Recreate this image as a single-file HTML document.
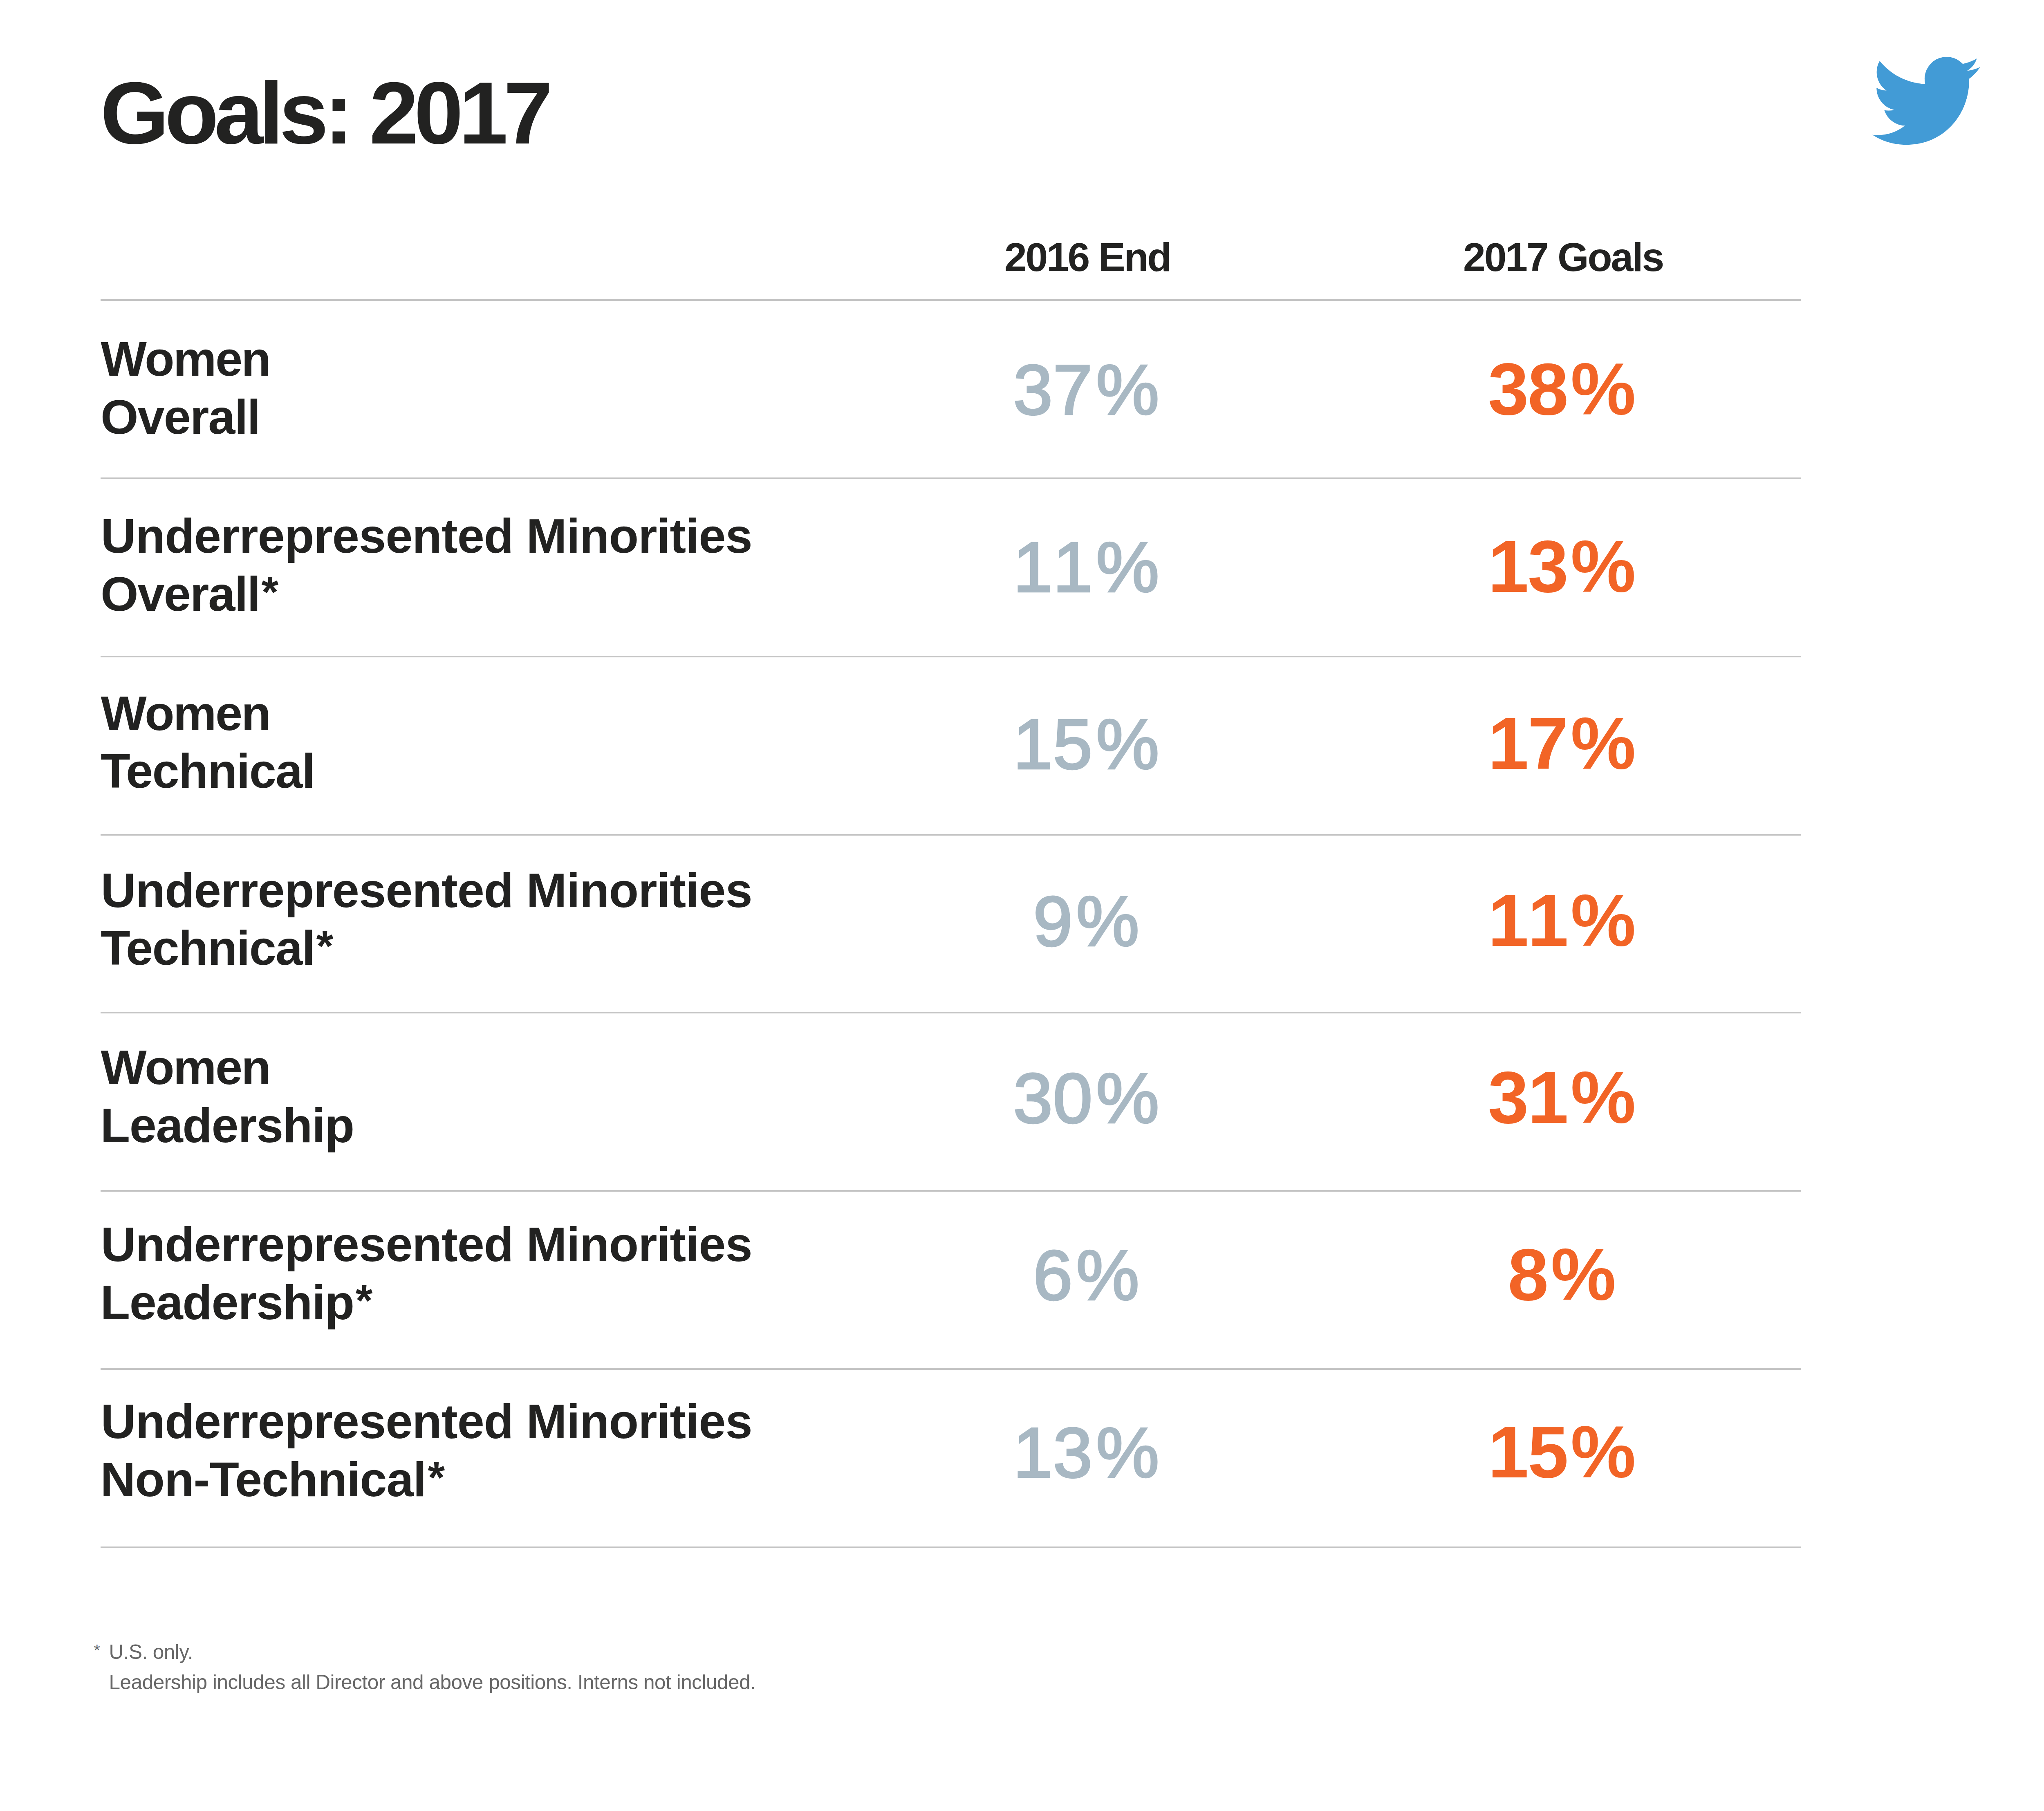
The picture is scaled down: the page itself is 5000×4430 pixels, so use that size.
<!DOCTYPE html>
<html lang="en">
<head>
<meta charset="utf-8">
<title>Goals: 2017</title>
<style>
html,body{margin:0;padding:0;background:#fff}
body{position:relative;width:5000px;height:4430px;overflow:hidden;font-family:"Liberation Sans",Arial,Helvetica,sans-serif;color:#222221}
.t{position:absolute;margin:0;white-space:nowrap;font-weight:700}
.t span{position:relative}
h1{left:245.5px;top:146.5px;font-size:216px;line-height:259px;letter-spacing:-10.6px}
.h{top:569.7px;font-size:98.5px;line-height:118px}
.h1{left:2457px;letter-spacing:-3.29px}
.h2{left:3579px;letter-spacing:-3.11px}
hr{position:absolute;left:246px;width:4160px;height:4px;margin:-2px 0 0;border:0;background:#c4c4c4}
.l{left:0;font-size:119px;line-height:141.5px}
.w{left:246.5px;letter-spacing:-2.76px}
.u{left:246.5px;letter-spacing:-1px}
.ov{left:246px;letter-spacing:-2px}
.te{left:246px;letter-spacing:-1.82px}
.le{left:245.5px;letter-spacing:-1.46px}
.nt{left:245.5px;letter-spacing:-1.08px}
.a{font-size:.9em;top:-.085em;margin-left:4px;letter-spacing:0}
.g{left:2357px;width:600px;text-align:center;font-size:173.5px;line-height:208px;letter-spacing:0.83px;font-weight:400;color:#a8b8c3;font-kerning:none;-webkit-text-stroke:4.4px #a8b8c3}
.o{left:3520.7px;width:600px;text-align:center;font-size:179.5px;line-height:215px;letter-spacing:-2.5px;font-weight:700;color:#f26426;font-kerning:none}
.g .p{margin-left:8px;letter-spacing:0}
.o .p{margin-left:7.8px;letter-spacing:0}
.f{left:0;top:4003.65px;font-size:49.5px;line-height:74.3px;font-weight:400;color:#676767}
.f1{left:266.5px;letter-spacing:-0.54px}
.f2{left:266.5px;letter-spacing:-0.48px}
.f .fs{position:absolute;left:229.5px;top:-4.5px;font-size:.8em}
#bird{position:absolute;left:4580px;top:138.7px;width:263.5px;height:215.1px}
</style>
</head>
<body>
<h1 class="t">Goals: 2017</h1>
<svg id="bird" viewBox="0 2.25 24 19.5" preserveAspectRatio="none" role="img" aria-label="Twitter"><path fill="#429bd6" d="M23.953 4.57a10 10 0 01-2.825.775 4.958 4.958 0 002.163-2.723c-.951.555-2.005.959-3.127 1.184a4.92 4.92 0 00-8.384 4.482C7.69 8.095 4.067 6.13 1.64 3.162a4.822 4.822 0 00-.666 2.475c0 1.71.87 3.213 2.188 4.096a4.904 4.904 0 01-2.228-.616v.06a4.923 4.923 0 003.946 4.827 4.996 4.996 0 01-2.212.085 4.936 4.936 0 004.604 3.417 9.867 9.867 0 01-6.102 2.105c-.39 0-.779-.023-1.17-.067a13.995 13.995 0 007.557 2.209c9.053 0 13.998-7.496 13.998-13.985 0-.21 0-.42-.015-.63A9.935 9.935 0 0024 4.59z"/></svg>
<div class="t h h1">2016 End</div>
<div class="t h h2">2017 Goals</div>
<hr style="top:734px">
<hr style="top:1169.85px">
<hr style="top:1605.7px">
<hr style="top:2041.55px">
<hr style="top:2477.4px">
<hr style="top:2913.25px">
<hr style="top:3349.1px">
<hr style="top:3784.95px">
<div class="t l" style="top:807.25px"><span class="w">Women</span><br><span class="ov">Overall</span></div>
<div class="t g" style="top:849.3px">37<span class="p">%</span></div>
<div class="t o" style="top:845.3px">38<span class="p">%</span></div>
<div class="t l" style="top:1240.45px"><span class="u">Underrepresented Minorities</span><br><span class="ov">Overall<span class="a">*</span></span></div>
<div class="t g" style="top:1282.5px">11<span class="p">%</span></div>
<div class="t o" style="top:1278.5px">13<span class="p">%</span></div>
<div class="t l" style="top:1673.65px"><span class="w">Women</span><br><span class="te">Technical</span></div>
<div class="t g" style="top:1715.7px">15<span class="p">%</span></div>
<div class="t o" style="top:1711.7px">17<span class="p">%</span></div>
<div class="t l" style="top:2106.85px"><span class="u">Underrepresented Minorities</span><br><span class="te">Technical<span class="a">*</span></span></div>
<div class="t g" style="top:2148.9px">9<span class="p">%</span></div>
<div class="t o" style="top:2144.9px">11<span class="p">%</span></div>
<div class="t l" style="top:2540.05px"><span class="w">Women</span><br><span class="le">Leadership</span></div>
<div class="t g" style="top:2582.1px">30<span class="p">%</span></div>
<div class="t o" style="top:2578.1px">31<span class="p">%</span></div>
<div class="t l" style="top:2973.25px"><span class="u">Underrepresented Minorities</span><br><span class="le">Leadership<span class="a">*</span></span></div>
<div class="t g" style="top:3015.3px">6<span class="p">%</span></div>
<div class="t o" style="top:3011.3px">8<span class="p">%</span></div>
<div class="t l" style="top:3406.45px"><span class="u">Underrepresented Minorities</span><br><span class="nt">Non-Technical<span class="a">*</span></span></div>
<div class="t g" style="top:3448.5px">13<span class="p">%</span></div>
<div class="t o" style="top:3444.5px">15<span class="p">%</span></div>
<p class="t f"><span class="fs">*</span><span class="f1">U.S. only.</span><br><span class="f2">Leadership includes all Director and above positions. Interns not included.</span></p>
</body>
</html>
